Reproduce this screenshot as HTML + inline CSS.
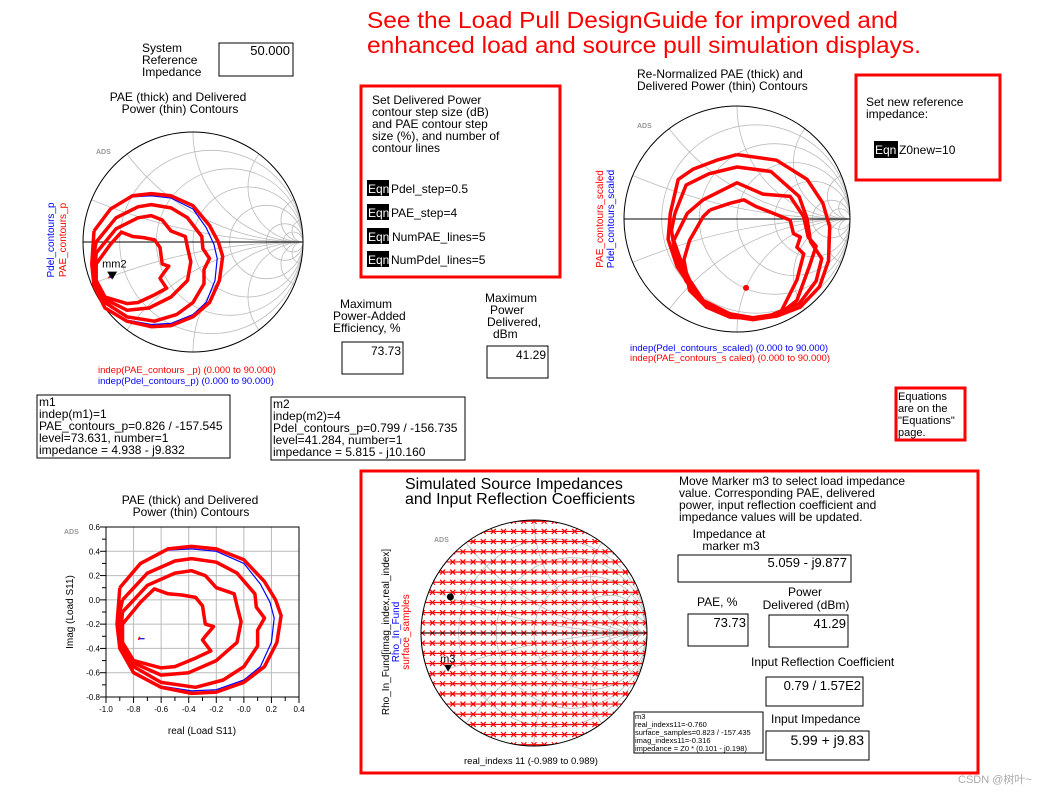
<!DOCTYPE html>
<html><head><meta charset="utf-8"><style>
html,body{margin:0;padding:0;background:#fff;width:1056px;height:795px;overflow:hidden;}
svg{display:block;font-family:"Liberation Sans",sans-serif;}
</style></head><body>
<svg id="root" width="1056" height="795" viewBox="0 0 1056 795" xmlns="http://www.w3.org/2000/svg">
<defs>
<clipPath id="clipL"><circle cx="193" cy="242" r="110"/></clipPath>
<clipPath id="clipR"><circle cx="737" cy="219" r="113"/></clipPath>
<clipPath id="clipB"><circle cx="534" cy="633" r="113"/></clipPath>
<clipPath id="clipRect"><rect x="106" y="527" width="193" height="170"/></clipPath>
</defs>

<g fill="#ff0000" font-size="23">
<text x="367" y="28" textLength="531" lengthAdjust="spacingAndGlyphs">See the Load Pull DesignGuide for improved and</text>
<text x="367" y="53" textLength="554" lengthAdjust="spacingAndGlyphs">enhanced load and source pull simulation displays.</text>
</g>

<g font-size="12">
<text x="142" y="52">System</text><text x="142" y="64">Reference</text><text x="142" y="76">Impedance</text>
<rect x="219" y="43" width="74" height="33" fill="none" stroke="#000"/>
<text x="290" y="55" text-anchor="end" font-size="13">50.000</text>
</g>

<g font-size="12" text-anchor="middle">
<text x="178" y="101">PAE (thick) and Delivered</text><text x="180" y="113">Power (thin) Contours</text>
</g>

<g>
<rect x="361" y="86" width="199" height="191" fill="none" stroke="#ff0000" stroke-width="3"/>
<g font-size="12"><text x="372" y="104">Set Delivered Power</text><text x="372" y="116">contour step size (dB)</text><text x="372" y="128">and PAE contour step</text><text x="372" y="140">size (%), and number of</text><text x="372" y="152">contour lines</text></g>
<g font-size="12">
<rect x="367" y="180" width="22" height="16" fill="#000"/><text x="368" y="193" fill="#fff">Eqn</text><text x="391" y="193">Pdel_step=0.5</text>
<rect x="367" y="204" width="22" height="16" fill="#000"/><text x="368" y="217" fill="#fff">Eqn</text><text x="391" y="217">PAE_step=4</text>
<rect x="367" y="228" width="22" height="16" fill="#000"/><text x="368" y="241" fill="#fff">Eqn</text><text x="392" y="241">NumPAE_lines=5</text>
<rect x="367" y="251" width="22" height="16" fill="#000"/><text x="368" y="264" fill="#fff">Eqn</text><text x="391" y="264">NumPdel_lines=5</text>
</g></g>

<g font-size="12">
<text x="340" y="308">Maximum</text><text x="333" y="320">Power-Added</text><text x="333" y="332">Efficiency, %</text>
<rect x="342" y="342" width="61" height="32" fill="none" stroke="#000"/><text x="401" y="355" text-anchor="end">73.73</text>
</g>
<g font-size="12">
<text x="485" y="302">Maximum</text><text x="490" y="314">Power</text><text x="487" y="326">Delivered,</text><text x="493" y="338">dBm</text>
<rect x="487" y="346" width="61" height="32" fill="none" stroke="#000"/><text x="546" y="359" text-anchor="end">41.29</text>
</g>

<g font-size="9.5">
<text x="98" y="373" fill="#ff0000">indep(PAE_contours _p) (0.000 to 90.000)</text>
<text x="98" y="384" fill="#0000ff">indep(Pdel_contours_p) (0.000 to 90.000)</text>
</g>
<g font-size="10" text-anchor="middle">
<text transform="translate(54,240) rotate(-90)" fill="#0000ff">Pdel_contours_p</text>
<text transform="translate(66,240) rotate(-90)" fill="#ff0000">PAE_contours_p</text>
</g>

<g font-size="12">
<rect x="37" y="395" width="193" height="63" fill="none" stroke="#000"/>
<text x="39" y="406">m1</text><text x="39" y="418">indep(m1)=1</text><text x="39" y="430">PAE_contours_p=0.826 / -157.545</text><text x="39" y="442">level=73.631, number=1</text><text x="39" y="454">impedance = 4.938 - j9.832</text>
</g>
<g font-size="12">
<rect x="271" y="397" width="194" height="63" fill="none" stroke="#000"/>
<text x="273" y="408">m2</text><text x="273" y="420">indep(m2)=4</text><text x="273" y="432">Pdel_contours_p=0.799 / -156.735</text><text x="273" y="444">level=41.284, number=1</text><text x="273" y="456">impedance = 5.815 - j10.160</text>
</g>

<g font-size="12">
<text x="637" y="78">Re-Normalized PAE (thick) and</text><text x="637" y="90">Delivered Power (thin) Contours</text>
</g>
<g>
<rect x="856" y="75" width="144" height="105" fill="none" stroke="#ff0000" stroke-width="3"/>
<text x="866" y="106" font-size="12">Set new reference</text><text x="866" y="118" font-size="12">impedance:</text>
<rect x="874" y="141" width="24" height="17" fill="#000"/><text x="875" y="154" fill="#fff" font-size="12">Eqn</text>
<text x="899" y="154" font-size="12">Z0new=10</text>
</g>
<g font-size="9.5">
<text x="630" y="351" fill="#0000ff">indep(Pdel_contours_scaled) (0.000 to 90.000)</text>
<text x="630" y="361" fill="#ff0000">indep(PAE_contours_s caled) (0.000 to 90.000)</text>
</g>
<g font-size="10" text-anchor="middle">
<text transform="translate(603,219) rotate(-90)" fill="#ff0000">PAE_contours_scaled</text>
<text transform="translate(614,219) rotate(-90)" fill="#0000ff">Pdel_contours_scaled</text>
</g>
<g font-size="11">
<rect x="896" y="388" width="69" height="52" fill="none" stroke="#ff0000" stroke-width="3"/>
<text x="898" y="400">Equations</text><text x="898" y="412">are on the</text><text x="898" y="424">"Equations"</text><text x="898" y="436">page.</text>
</g>

<g font-size="12" text-anchor="middle">
<text x="190" y="504">PAE (thick) and Delivered</text><text x="191" y="516">Power (thin) Contours</text>
</g>
<text x="202" y="734" font-size="10" text-anchor="middle">real (Load S11)</text>
<text transform="translate(73,612) rotate(-90)" font-size="10" text-anchor="middle">Imag (Load S11)</text>

<g>
<rect x="361" y="471" width="617" height="302" fill="none" stroke="#ff0000" stroke-width="3"/>
<text x="405" y="489" font-size="16">Simulated Source Impedances</text>
<text x="405" y="504" font-size="16">and Input Reflection Coefficients</text>
<g font-size="12"><text x="679" y="485">Move Marker m3 to select load impedance</text><text x="679" y="497">value.  Corresponding PAE, delivered</text><text x="679" y="509">power, input reflection coefficient and</text><text x="679" y="521">impedance values will be updated.</text></g>
<text x="729" y="538" font-size="12" text-anchor="middle">Impedance at</text><text x="731" y="550" font-size="12" text-anchor="middle">marker m3</text>
<rect x="678" y="555" width="173" height="27" fill="none" stroke="#000"/><text x="847" y="567" font-size="13" text-anchor="end">5.059 - j9.877</text>
<text x="697" y="606" font-size="12">PAE, %</text>
<rect x="688" y="614" width="60" height="32" fill="none" stroke="#000"/><text x="746" y="627" font-size="13" text-anchor="end">73.73</text>
<text x="805" y="596" font-size="12" text-anchor="middle">Power</text><text x="806" y="609" font-size="12" text-anchor="middle">Delivered (dBm)</text>
<rect x="769" y="615" width="79" height="32" fill="none" stroke="#000"/><text x="846" y="628" font-size="13" text-anchor="end">41.29</text>
<text x="751" y="666" font-size="12">Input Reflection Coefficient</text>
<rect x="766" y="677" width="97" height="29" fill="none" stroke="#000"/><text x="861" y="690" font-size="13" text-anchor="end">0.79 / 1.57E2</text>
<text x="771" y="723" font-size="12">Input Impedance</text>
<rect x="766" y="731" width="103" height="29" fill="none" stroke="#000"/><text x="864" y="745" font-size="14" text-anchor="end">5.99 + j9.83</text>
<text x="464" y="764" font-size="9.5">real_indexs 11 (-0.989 to 0.989)</text>
<g font-size="10" text-anchor="middle">
<text transform="translate(389,632) rotate(-90)">Rho_In_Fund[imag_index,real_index]</text>
<text transform="translate(399,632) rotate(-90)" fill="#0000ff">Rho_In_Fund</text>
<text transform="translate(409,632) rotate(-90)" fill="#ff0000">surface_samples</text>
</g>
</g>
<text x="958" y="783" font-size="11" fill="#aaa" font-family="'Liberation Sans','Noto Sans CJK SC',sans-serif">CSDN @树叶~</text>

<g id="plots"></g>
<g font-size="7.5">
<rect x="634" y="712" width="129" height="41" fill="#fff" stroke="#000"/>
<text x="635" y="719">m3</text><text x="635" y="727">real_indexs11=-0.760</text><text x="635" y="735">surface_samples=0.823 / -157.435</text><text x="635" y="743">imag_indexs11=-0.316</text><text x="635" y="751">impedance = Z0 * (0.101 - j0.198)</text>
</g>
</svg>
<script>
// Left Smith / rectangular: PAE contours (gamma real, imag pairs)
const paeC1 = [[-0.9,0.1],[-0.75,0.3],[-0.55,0.42],[-0.38,0.44],[-0.2,0.42],[0.0,0.33],[0.15,0.15],[0.23,0.0],[0.27,-0.13],[0.24,-0.35],[0.15,-0.55],[0.0,-0.68],[-0.2,-0.76],[-0.38,-0.77],[-0.6,-0.72],[-0.8,-0.6],[-0.9,-0.4],[-0.92,-0.2],[-0.9,0.1]];
const paeC2 = [[-0.88,0.0],[-0.7,0.22],[-0.5,0.32],[-0.38,0.34],[-0.2,0.31],[-0.05,0.22],[0.08,0.05],[0.09,-0.06],[0.15,-0.15],[0.1,-0.25],[0.1,-0.38],[0.0,-0.55],[-0.15,-0.66],[-0.35,-0.72],[-0.6,-0.68],[-0.8,-0.55],[-0.9,-0.35],[-0.9,-0.1],[-0.88,0.0]];
const paeC3 = [[-0.88,-0.1],[-0.7,0.12],[-0.5,0.22],[-0.38,0.24],[-0.28,0.2],[-0.2,0.1],[-0.07,0.05],[-0.05,-0.05],[-0.02,-0.18],[-0.05,-0.35],[-0.1,-0.4],[-0.2,-0.5],[-0.4,-0.6],[-0.6,-0.62],[-0.8,-0.52],[-0.9,-0.35],[-0.88,-0.1]];
const paeC4 = [[-0.88,-0.2],[-0.75,-0.02],[-0.65,0.09],[-0.55,0.05],[-0.45,0.04],[-0.35,0.02],[-0.3,-0.05],[-0.28,-0.2],[-0.22,-0.22],[-0.28,-0.3],[-0.3,-0.33],[-0.24,-0.42],[-0.35,-0.48],[-0.5,-0.55],[-0.6,-0.56],[-0.8,-0.5],[-0.88,-0.35],[-0.88,-0.2]];
const paeC5 = [[-0.765,-0.315],[-0.755,-0.32]];
const pdelC1 = [[-0.9,0.1],[-0.75,0.3],[-0.55,0.41],[-0.38,0.42],[-0.2,0.4],[0.0,0.3],[0.12,0.13],[0.19,-0.02],[0.22,-0.15],[0.2,-0.35],[0.12,-0.55],[0.0,-0.66],[-0.2,-0.74],[-0.38,-0.75],[-0.6,-0.71],[-0.8,-0.59],[-0.9,-0.4],[-0.92,-0.2],[-0.9,0.1]];
const pdelC5 = [[-0.76,-0.32],[-0.72,-0.32]];
// Right (re-normalized) Smith contours
const scC1 = [[0,0.57],[0.35,0.52],[0.62,0.35],[0.76,0.14],[0.82,-0.07],[0.81,-0.37],[0.73,-0.6],[0.56,-0.78],[0.35,-0.86],[0.14,-0.89],[-0.06,-0.86],[-0.27,-0.78],[-0.41,-0.6],[-0.53,-0.42],[-0.61,-0.18],[-0.59,0.05],[-0.52,0.35],[-0.39,0.44],[-0.18,0.52],[0,0.57]];
const scC2 = [[-0.55,0.05],[-0.45,0.3],[-0.25,0.4],[0,0.46],[0.3,0.42],[0.55,0.2],[0.62,0],[0.65,-0.2],[0.75,-0.35],[0.7,-0.55],[0.55,-0.75],[0.3,-0.85],[0.1,-0.88],[-0.1,-0.83],[-0.3,-0.73],[-0.45,-0.55],[-0.55,-0.3],[-0.58,-0.1],[-0.55,0.05]];
const scC3 = [[-0.3,0.17],[0,0.32],[0.23,0.22],[0.47,0.2],[0.59,0.02],[0.63,-0.16],[0.7,-0.24],[0.64,-0.42],[0.53,-0.72],[0.38,-0.84],[0.17,-0.88],[-0.06,-0.84],[-0.3,-0.72],[-0.42,-0.54],[-0.5,-0.36],[-0.56,-0.19],[-0.44,0.05],[-0.3,0.17]];
const scC4 = [[-0.24,0.08],[-0.06,0.14],[0.06,0.17],[0.17,0.11],[0.32,0.05],[0.47,-0.01],[0.5,-0.13],[0.56,-0.16],[0.53,-0.25],[0.59,-0.31],[0.53,-0.54],[0.44,-0.72],[0.38,-0.84],[0.17,-0.88],[-0.06,-0.87],[-0.27,-0.78],[-0.42,-0.63],[-0.47,-0.36],[-0.42,-0.19],[-0.3,0.02],[-0.24,0.08]];
const scDot = [0.08,-0.61];
// Source surface sample indices
const realIndexes = [-0.989,-0.899,-0.809,-0.719,-0.629,-0.539,-0.449,-0.360,-0.270,-0.180,-0.090,0,0.090,0.180,0.270,0.360,0.449,0.539,0.629,0.719,0.809,0.899,0.989];
const imagIndexes = [-0.989,-0.899,-0.809,-0.719,-0.629,-0.539,-0.449,-0.360,-0.270,-0.180,-0.090,0,0.090,0.180,0.270,0.360,0.449,0.539,0.629,0.719,0.809,0.899,0.989];
const m3Point = [-0.760,-0.316];
const m2Point = [-0.735,-0.315];
const rhoInFund = [-0.74,0.32];
// Rect axis ticks
const xTicks = [-1.0,-0.8,-0.6,-0.4,-0.2,0.0,0.2,0.4];
const xTickLabels = ["-1.0","-0.8","-0.6","-0.4","-0.2","-0.0","0.2","0.4"];
const yTicks = [-0.8,-0.6,-0.4,-0.2,0.0,0.2,0.4,0.6];
const yTickLabels = ["-0.8","-0.6","-0.4","-0.2","0.0","0.2","0.4","0.6"];
const smithR = [0.2,0.5,1,2,5,10];
const smithX = [0.2,0.5,1,2,5,10,-0.2,-0.5,-1,-2,-5,-10];

const NS="http://www.w3.org/2000/svg";
const root=document.getElementById('plots');
function mk(tag,attrs,parent){const e=document.createElementNS(NS,tag);for(const k in attrs)e.setAttribute(k,attrs[k]);(parent||root).appendChild(e);return e;}

function smith(cx,cy,R,clip,name){
  const g=mk('g',{});
  
  
  const gg=mk('g',{'clip-path':'url(#'+clip+')',fill:'none',stroke:'#bbb','stroke-width':0.8},g);
  smithR.forEach(r=>{mk('circle',{cx:cx+R*r/(1+r),cy:cy,r:R/(1+r)},gg);});
  smithX.forEach(x=>{mk('circle',{cx:cx+R,cy:cy-R/x,r:Math.abs(R/x)},gg);});
  const clipped=mk('g',{'clip-path':'url(#'+clip+')'},g);
  mk('circle',{cx:cx,cy:cy,r:R,fill:'none',stroke:'#000','stroke-width':1},g);
  mk('line',{x1:cx-R,y1:cy,x2:cx+R,y2:cy,stroke:'#000','stroke-width':1},g);
  const t=mk('text',{x:cx-R+13,y:cy-R+22,'font-size':7,fill:'#999','font-weight':'bold'},g);t.textContent='ADS';
  return {g:g,clip:clipped,sx:v=>cx+R*v,sy:v=>cy-R*v};
}
function poly(pts,sx,sy,color,w,parent,name){
  const p=mk('polyline',{points:pts.map(p=>sx(p[0]).toFixed(1)+','+sy(p[1]).toFixed(1)).join(' '),fill:'none',stroke:color,'stroke-width':w,'stroke-linejoin':'round'},parent);
  
  
}
const paeAll=[paeC1,paeC2,paeC3,paeC4,paeC5];
const pdelAll=[pdelC1,paeC2,paeC3,paeC4,pdelC5];

// Left smith
const L=smith(193,242,110,'clipL','left-smith-chart');
pdelAll.forEach((c,i)=>poly(c,L.sx,L.sy,'#0000ff',1.2,L.g,'pdel-contour-'+(i+1)));
paeAll.forEach((c,i)=>poly(c,L.sx,L.sy,'#ff0000',3.5,L.g,'pae-contour-'+(i+1)));
{const x=L.sx(m2Point[0]),y=L.sy(m2Point[1]);
 const tri=mk('polygon',{points:`${x-5},${y-5} ${x+5},${y-5} ${x},${y+3}`,fill:'#000'},L.g);
 
 
 const t=mk('text',{x:x-10,y:y-9,'font-size':11},L.g);t.textContent='mm2';
 
 }

// Right smith
const Rr=smith(737,219,113,'clipR','right-smith-chart');
[scC1,scC2,scC3,scC4].forEach((c,i)=>poly(c,Rr.sx,Rr.sy,'#0000ff',1.2,Rr.g,'pdel-scaled-contour-'+(i+1)));
[scC1,scC2,scC3,scC4].forEach((c,i)=>poly(c,Rr.sx,Rr.sy,'#ff0000',3.5,Rr.g,'pae-scaled-contour-'+(i+1)));
{const d=mk('circle',{cx:Rr.sx(scDot[0]),cy:Rr.sy(scDot[1]),r:3,fill:'#ff0000'},Rr.g);
 
 }

// Rect plot
const x0=106,x1=299,y0=697,y1=527;
const rx=v=>x0+(v+1.0)/1.4*(x1-x0), ry=v=>y0-(v+0.8)/1.4*(y0-y1);
const rg=mk('g',{});


xTicks.forEach((v,i)=>{mk('line',{x1:rx(v),y1:y1,x2:rx(v),y2:y0,stroke:'#bbb','stroke-width':1},rg);
  const t=mk('text',{x:rx(v),y:y0+15,'font-size':8,'text-anchor':'middle'},rg);t.textContent=xTickLabels[i];
  
  
  if(i<xTicks.length-1){const m=rx(v+0.1);mk('line',{x1:m,y1:y0,x2:m,y2:y0+4,stroke:'#000'},rg);}
  mk('line',{x1:rx(v),y1:y0,x2:rx(v),y2:y0+6,stroke:'#000'},rg);});
yTicks.forEach((v,i)=>{mk('line',{x1:x0,y1:ry(v),x2:x1,y2:ry(v),stroke:'#bbb','stroke-width':1},rg);
  const t=mk('text',{x:x0-6,y:ry(v)+3,'font-size':8,'text-anchor':'end'},rg);t.textContent=yTickLabels[i];
  
  
  if(i<yTicks.length-1){const m=ry(v+0.1);mk('line',{x1:x0-4,y1:m,x2:x0,y2:m,stroke:'#000'},rg);}
  mk('line',{x1:x0-6,y1:ry(v),x2:x0,y2:ry(v),stroke:'#000'},rg);});
mk('rect',{x:x0,y:y1,width:x1-x0,height:y0-y1,fill:'none',stroke:'#000'},rg);
{const t=mk('text',{x:64,y:534,'font-size':7,fill:'#999','font-weight':'bold'},rg);t.textContent='ADS';}
const rc=mk('g',{'clip-path':'url(#clipRect)'},rg);
pdelAll.forEach((c,i)=>poly(c,rx,ry,'#0000ff',1.2,rc,'rect-pdel-contour-'+(i+1)));
paeAll.forEach((c,i)=>poly(c,rx,ry,'#ff0000',3.5,rc,'rect-pae-contour-'+(i+1)));

// Bottom source smith
const B=smith(534,633,113,'clipB','source-smith-chart');
const bg=mk('g',{stroke:'#ff0000','stroke-width':1.2,fill:'none'},B.clip);
imagIndexes.forEach(im=>{
  const ln=mk('line',{x1:B.sx(-1.05),y1:B.sy(im),x2:B.sx(1.05),y2:B.sy(im)},bg);
  
  
  realIndexes.forEach(re=>{const x=B.sx(re),y=B.sy(im);
    const p=mk('path',{d:`M${x-2.5},${y-2.5}L${x+2.5},${y+2.5}M${x-2.5},${y+2.5}L${x+2.5},${y-2.5}`},bg);
    
    });
});
{const d=mk('circle',{cx:B.sx(rhoInFund[0]),cy:B.sy(rhoInFund[1]),r:3.5,fill:'#000'},B.g);
 
 
 const x=B.sx(m3Point[0]),y=B.sy(m3Point[1]);
 const tri=mk('polygon',{points:`${x-4},${y-4} ${x+4},${y-4} ${x},${y+3}`,fill:'#000'},B.g);
 
 
 const t=mk('text',{x:x-8,y:y-6,'font-size':11},B.g);t.textContent='m3';
 
 }
</script>
</body></html>
